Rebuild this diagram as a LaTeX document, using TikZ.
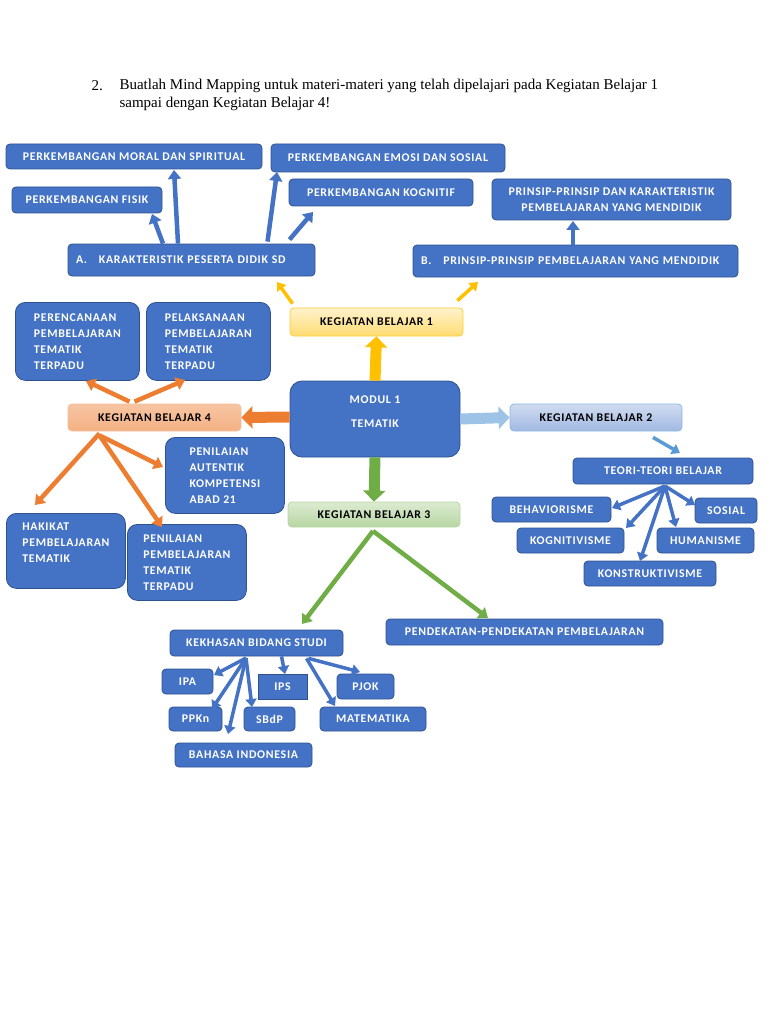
\documentclass[tikz,border=0pt]{standalone}
\usepackage{fontspec}
\setmainfont{Liberation Serif}
\newfontfamily\calfnt{Carlito}[LetterSpace=6]
\usetikzlibrary{arrows.meta,calc}
\definecolor{bfill}{HTML}{4472C4}
\definecolor{bdraw}{HTML}{2F528F}
\definecolor{yel}{HTML}{FFC000}
\definecolor{org}{HTML}{ED7D31}
\definecolor{grn}{HTML}{70AD47}
\definecolor{lb}{HTML}{9DC3E6}
\definecolor{lb2}{HTML}{5B9BD5}
\begin{document}
\begin{tikzpicture}[x=1pt,y=-1pt,
 box/.style={draw=bdraw,fill=bfill,text=white,rounded corners=4pt,line width=0.8pt,font=\calfnt\bfseries\fontsize{11.8}{16}\selectfont,inner sep=1pt},
 big/.style={box,rounded corners=10pt,align=left,anchor=north west,inner xsep=12pt,inner ysep=5pt},
 kb/.style={rounded corners=4pt,line width=0.8pt,font=\calfnt\bfseries\fontsize{11.8}{14}\selectfont,text=black},
 ar/.style={line width=4.5pt,-{Triangle[length=9pt,width=13pt]}},
 bar/.style={line width=11pt,-{Triangle[length=11pt,width=22pt]}},
 sar/.style={line width=3.5pt,-{Triangle[length=8pt,width=11pt]}}]
\useasboundingbox (0,0) rectangle (768,1024);
% title
\node[anchor=west,font=\fontsize{15}{18}\selectfont] (n2) at (88,86) {2.};
\node[anchor=west,font=\fontsize{15}{18}\selectfont,align=left] (title) at (116,95) {Buatlah Mind Mapping untuk materi-materi yang telah dipelajari pada Kegiatan Belajar 1\\sampai dengan Kegiatan Belajar 4!};
% boxes
\newcommand\bx[6]{\node[box,minimum width=#3-#2,minimum height=#5-#4] (#1) at ({(#2+#3)/2},{(#4+#5)/2}) {#6};}
\bx{moral}{6}{262}{144}{169}{PERKEMBANGAN MORAL DAN SPIRITUAL}
\bx{emosi}{271}{505}{144}{172}{PERKEMBANGAN EMOSI DAN SOSIAL}
\bx{fisik}{12}{162}{187}{213}{PERKEMBANGAN FISIK}
\bx{kogn}{289}{473}{179}{206}{PERKEMBANGAN KOGNITIF}
\node[box,minimum width=239,minimum height=41,align=center] (prk) at (611.5,199.5) {PRINSIP-PRINSIP DAN KARAKTERISTIK\\PEMBELAJARAN YANG MENDIDIK};
\node[box,minimum height=32,text width=231,align=left,inner xsep=8pt] (A) at (191.5,260) {A.\quad KARAKTERISTIK PESERTA DIDIK SD};
\node[box,minimum height=32,text width=309,align=left,inner xsep=8pt] (B) at (575.5,261) {B.\quad PRINSIP-PRINSIP PEMBELAJARAN YANG MENDIDIK};
\node[kb,draw=yel!80,top color=yel!20,bottom color=yel!55,minimum width=173,minimum height=28] (kb1) at (376.5,322) {KEGIATAN BELAJAR 1};
\node[big,minimum width=124,minimum height=78] (pren) at (15,302) {PERENCANAAN\\PEMBELAJARAN\\TEMATIK\\TERPADU};
\node[big,minimum width=124,minimum height=78] (plak) at (146,302) {PELAKSANAAN\\PEMBELAJARAN\\TEMATIK\\TERPADU};
\node[box,rounded corners=12pt,minimum width=170,minimum height=76,align=center,text depth=15pt,font=\calfnt\bfseries\fontsize{11.8}{24}\selectfont] (modul) at (375,419) {MODUL 1\\TEMATIK};
\node[kb,draw=org!50,top color=org!45,bottom color=org!60,minimum width=173,minimum height=27] (kb4) at (154.5,417.5) {KEGIATAN BELAJAR 4};
\node[kb,draw=lb2!70,top color=bfill!25,bottom color=bfill!50,minimum width=172,minimum height=27] (kb2) at (596,417.5) {KEGIATAN BELAJAR 2};
\node[big,minimum width=119,minimum height=76] (pena) at (165,437) {PENILAIAN\\AUTENTIK\\KOMPETENSI\\ABAD 21};
\bx{teori}{573}{753}{458}{484}{TEORI-TEORI BELAJAR}
\node[kb,draw=grn!50,top color=grn!25,bottom color=grn!50,minimum width=172,minimum height=25] (kb3) at (374,514.5) {KEGIATAN BELAJAR 3};
\node[big,minimum width=119,minimum height=75] (hak) at (6,513) {HAKIKAT\\PEMBELAJARAN\\TEMATIK\\~};
\node[big,minimum width=119,minimum height=76] (penp) at (127,524) {PENILAIAN\\PEMBELAJARAN\\TEMATIK\\TERPADU};
\bx{beh}{492}{611}{497}{522}{BEHAVIORISME}
\bx{sos}{695}{757}{498}{523}{SOSIAL}
\bx{kgv}{517}{624}{528}{553}{KOGNITIVISME}
\bx{hum}{657}{754}{528}{553}{HUMANISME}
\bx{kon}{584}{716}{561}{586}{KONSTRUKTIVISME}
\bx{kek}{170}{343}{630}{656}{KEKHASAN BIDANG STUDI}
\bx{pend}{386}{663}{619}{645}{PENDEKATAN-PENDEKATAN PEMBELAJARAN}
\bx{ipa}{162}{213}{669}{694}{IPA}
\node[box,rounded corners=0pt,minimum width=49,minimum height=25] (ips) at (282.5,686.5) {IPS};
\bx{pjok}{337}{394}{674}{699}{PJOK}
\bx{ppkn}{169}{222}{707}{731}{PPKn}
\bx{sbdp}{244}{295}{707}{731}{SBdP}
\bx{mat}{320}{426}{707}{731}{MATEMATIKA}
\bx{bhs}{175}{312}{743}{767}{BAHASA INDONESIA}
% arrows
\begin{scope}[bfill]
\draw[ar] (A.north -| 163,0) -- (152,214);
\draw[ar] (A.north -| 178,0) -- (174,170);
\draw[ar] ($(A.north)+(76,-2)$) -- (277,172);
\draw[ar] ($(A.north)+(98,-4)$) -- (313,212);
\draw[ar] (B.north -| 573,0) -- (573,221);
\end{scope}
\draw[yel,sar] ($(kb1.north west)+(3,-4)$) -- (277,282);
\draw[yel,sar] ($(kb1.north east)+(-6,-7)$) -- (478,282);
\draw[yel,bar] (modul.north) -- (kb1.south);
\draw[org,bar] (modul.west) ++(0,-2) -- (kb4.east);
\draw[lb,bar] (modul.east) -- (kb2.west);
\draw[grn,bar] (modul.south) -- (kb3.north);
\begin{scope}[org]
\draw[ar] ($(kb4.north)+(-25,-2)$) -- (86,381);
\draw[ar] ($(kb4.north)+(-20,-2)$) -- (185,380);
\draw[ar] ($(kb4.south)+(-55,2)$) -- (35,505);
\draw[ar] ($(kb4.south)+(-55,4)$) -- (163,467);
\draw[ar] ($(kb4.south)+(-55,4)$) -- (162,527);
\end{scope}
\draw[lb2,sar] ($(kb2.south)+(57,6)$) -- (680,453);
\begin{scope}[bfill]
\coordinate (t0) at (665,486);
\draw[sar] (t0) -- (612,508);
\draw[sar] (t0) -- (626,528);
\draw[sar] (t0) -- (640,561);
\draw[sar] (t0) -- (676,527);
\draw[sar] (t0) -- (695,505);
\end{scope}
\coordinate (g0) at (373,531);
\draw[grn,ar] (g0) -- (302,624);
\draw[grn,ar] (g0) -- (488,618);
\begin{scope}[bfill]
\coordinate (k0) at (246,658);
\draw[sar] (k0) -- (214,675);
\draw[sar] (k0) -- (212,709);
\draw[sar] (k0) -- (228,734);
\draw[sar] (k0) -- (252,707);
\draw[sar] ($(kek.south)+(25,0)$) -- (285,674);
\draw[sar] ($(kek.south)+(52,2)$) -- (360,672);
\draw[sar] ($(kek.south)+(50,2)$) -- (335,706);
\end{scope}
\end{tikzpicture}
\end{document}
